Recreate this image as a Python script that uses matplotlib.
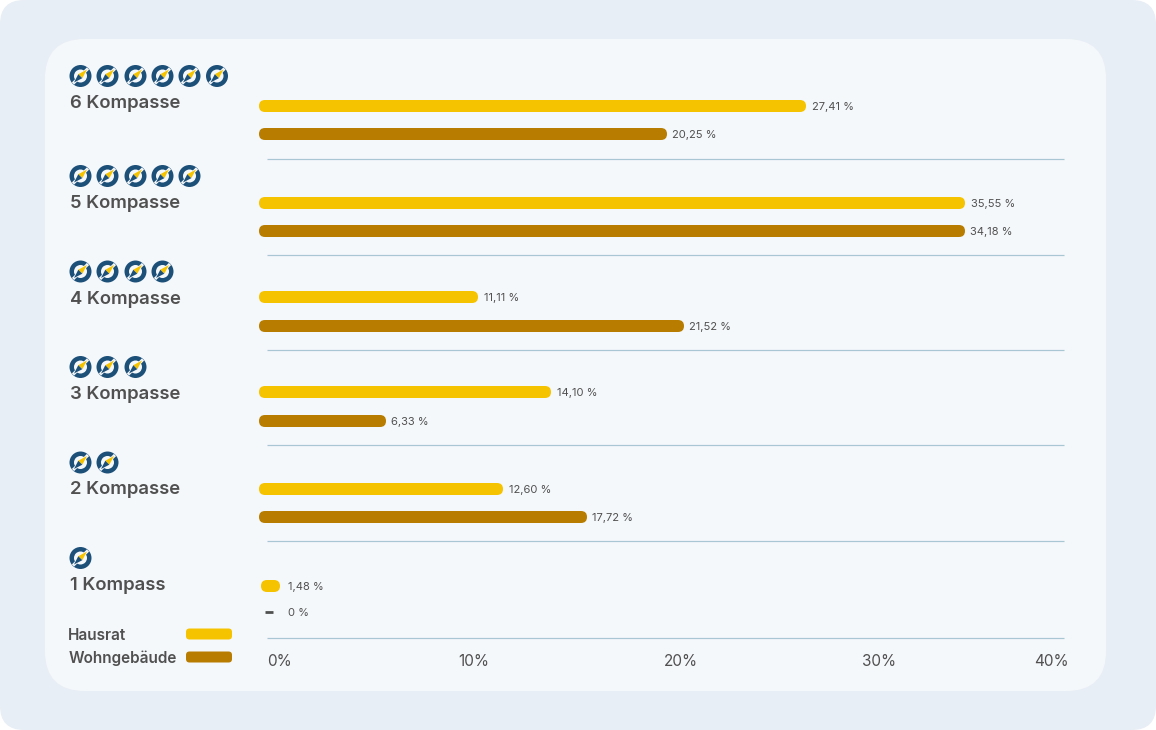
import matplotlib
matplotlib.use('Agg')
import matplotlib.pyplot as plt
from matplotlib.patches import FancyBboxPatch, Circle, Polygon

# data
groups = ['6 Kompasse', '5 Kompasse', '4 Kompasse', '3 Kompasse', '2 Kompasse', '1 Kompass']
n_icons = [6, 5, 4, 3, 2, 1]
hausrat_labels = ['27,41 %', '35,55 %', '11,11 %', '14,10 %', '12,60 %', '1,48 %']
wohn_labels = ['20,25 %', '34,18 %', '21,52 %', '6,33 %', '17,72 %', '0 %']
# bar lengths as they are drawn in the picture (not quite the printed values)
hausrat_bars = [27.35, 35.3, 10.95, 14.6, 12.2, 0.95]
wohn_bars = [20.4, 35.3, 21.25, 6.35, 16.4, 0]
ticks = ['0%', '10%', '20%', '30%', '40%']
legend_names = ['Hausrat', 'Wohngebäude']

# layout, in pixels of the picture
W, H = 1156, 730
X0 = 259
PX = 20  # pixels per percent
y_h = [106, 203, 297, 392, 489, 586]
y_w = [134, 231, 326, 421, 517, 612]
y_sep = [159, 255, 350, 444.5, 541, 638]
y_icon = [76, 176, 271.5, 367, 462.5, 558]
y_name = [103.5, 203.5, 299.5, 394.5, 489.5, 585.5]
x_icon = [80.5, 107.5, 135.5, 162.5, 189.5, 217]
tick_x = [279, 474, 681, 879, 1051]

YELLOW = '#f5c300'
BROWN = '#b87d00'
BLUE = '#1d5079'
TEXT = '#505050'
FONT = 'Inter'

fig = plt.figure(figsize=(W / 100, H / 100), dpi=100, facecolor='white')
ax = fig.add_axes([0, 0, 1, 1])
ax.set_xlim(0, W)
ax.set_ylim(H, 0)
ax.axis('off')

# x in percent, y in pixels
bar_ax = fig.add_axes([0, 0, 1, 1], facecolor='none')
bar_ax.set_xlim(-X0 / PX, (W - X0) / PX)
bar_ax.set_ylim(H, 0)
bar_ax.axis('off')


def round_box(a, x, y, w, h, r, color, aspect=1):
    a.add_patch(FancyBboxPatch((x, y), w, h, boxstyle=f'round,pad=0,rounding_size={r}',
                               mutation_aspect=aspect, fc=color, ec='none'))


def compass(cx, cy):
    ax.add_patch(Circle((cx, cy), 11, fc=BLUE, ec='none'))
    ax.add_patch(Circle((cx, cy), 6.5, fc='#f5f8fb', ec='none'))
    ax.add_patch(Polygon([(cx - 8.6, cy + 6.4), (cx - 6.4, cy + 8.6), (cx + 8.6, cy - 6.4), (cx + 6.4, cy - 8.6)],
                         fc='#f5f8fb', ec='none'))
    ax.add_patch(Polygon([(cx + 6.5, cy - 6.5), (cx - 2.2, cy - 1.8), (cx + 1.8, cy + 2.2)], fc=YELLOW, ec='none'))
    ax.add_patch(Polygon([(cx - 6.5, cy + 6.5), (cx - 2.2, cy - 1.8), (cx + 1.8, cy + 2.2)], fc=BLUE, ec='none'))


# page and card
round_box(ax, 0, 0, W, H, 24, '#e8eef5')
round_box(ax, 45, 39, 1061, 652, 40, '#f5f8fb')

for i, name in enumerate(groups):
    for k in range(n_icons[i]):
        compass(x_icon[k], y_icon[i])
    ax.text(70, y_name[i], name, fontsize=13.3, fontweight='semibold', family=FONT,
            color=TEXT, va='center', ha='left')
    ax.plot([267, 1064], [y_sep[i], y_sep[i]], color='#a9c6d4', lw=0.9, solid_capstyle='butt')

    for y, length, label, color, gap in [(y_h[i], hausrat_bars[i], hausrat_labels[i], YELLOW, 6),
                                         (y_w[i], wohn_bars[i], wohn_labels[i], BROWN, 5)]:
        if length > 0:
            start = 0.1 if length < 2 else 0
            round_box(bar_ax, start, y - 6, length, 12, 6 / PX, color, aspect=PX)
        else:
            bar_ax.plot([0.3, 0.7], [y, y], color=TEXT, lw=2, solid_capstyle='butt')
        end = max(start + length + gap / PX, 1.45) if length > 0 else 1.45
        bar_ax.text(end, y + 1, label, fontsize=8, family=FONT, color=TEXT, va='center', ha='left')

for x, t in zip(tick_x, ticks):
    ax.text(x, 661.5, t, fontsize=11, family=FONT, color=TEXT, va='center', ha='center')

# legend
for y, name, color, x in zip([634, 657], legend_names, [YELLOW, BROWN], [68, 69]):
    ax.text(x, y + 1, name, fontsize=11, fontweight='semibold', family=FONT, color=TEXT, va='center', ha='left')
    round_box(ax, 186, y - 5.5, 46, 11, 3.5, color)

fig.savefig('out.png', dpi=100)
